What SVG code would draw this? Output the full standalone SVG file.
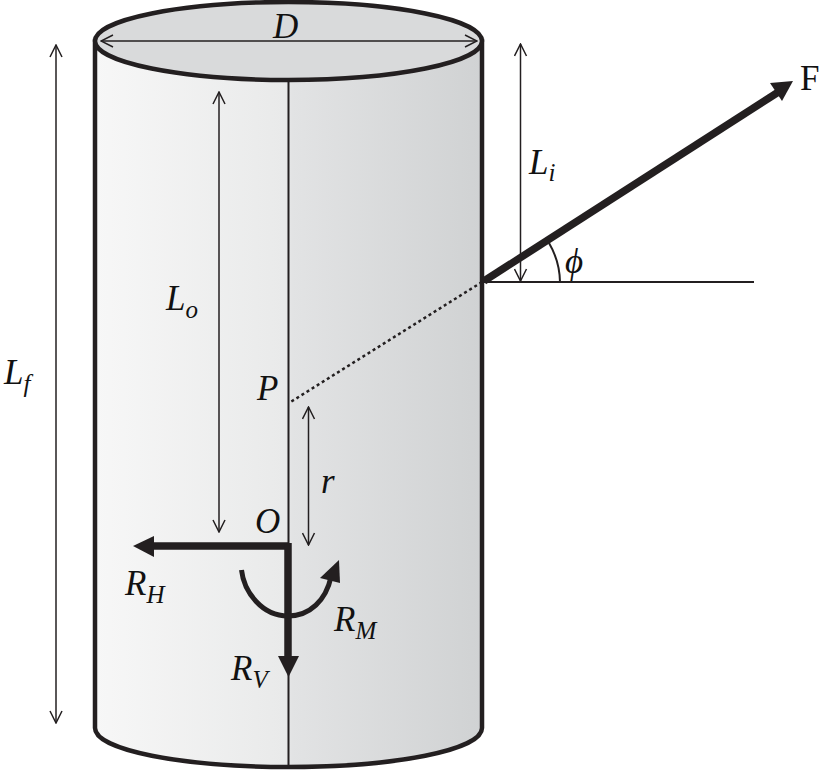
<svg xmlns="http://www.w3.org/2000/svg" width="832" height="776" viewBox="0 0 832 776">
<style>
.t{font-family:"Liberation Serif","Times New Roman",serif;font-style:italic;font-size:35px;fill:#111}
.s{font-size:25px}
.thin{fill:none;stroke:#231f20;stroke-width:1.5}
.med{fill:none;stroke:#231f20;stroke-width:2}
.thick{fill:none;stroke:#231f20;stroke-width:7.500}
.head{fill:#231f20}
</style>
<defs>
<linearGradient id="body" x1="0" x2="1" y1="0" y2="0">
<stop offset="0" stop-color="#f7f7f7"/>
<stop offset="0.49" stop-color="#e9eaea"/>
<stop offset="0.51" stop-color="#e2e3e4"/>
<stop offset="1" stop-color="#d0d2d3"/>
</linearGradient>
<marker id="open" viewBox="0 0 14 14" refX="13" refY="7" markerWidth="14" markerHeight="14" markerUnits="userSpaceOnUse" orient="auto-start-reverse">
<path d="M1 1L13 7L1 13" fill="none" stroke="#231f20" stroke-width="1.5"/>
</marker>
</defs>
<g id="cylinder">
<path d="M95 41V728C95 750 182 767 288.500 767C395 767 482 750 482 728V41Z" fill="url(#body)" stroke="#231f20" stroke-width="4.500"/>
<ellipse cx="288.500" cy="41" rx="193.500" ry="39" fill="#d9dadb" stroke="#231f20" stroke-width="4.500"/>
<path class="med" d="M288.500 80V767"/>
</g>
<g id="connectors">
<path class="thin" marker-start="url(#open)" marker-end="url(#open)" d="M101 41H477"/>
<path class="thin" marker-start="url(#open)" marker-end="url(#open)" d="M56 45V723"/>
<path class="thin" marker-start="url(#open)" marker-end="url(#open)" d="M219 92V532"/>
<path class="thin" marker-start="url(#open)" marker-end="url(#open)" d="M308.500 407V545"/>
<path class="thin" marker-start="url(#open)" marker-end="url(#open)" d="M520.500 44V281"/>
<path class="med" d="M482 282H754"/>
<path class="med" d="M549 243A80 80 0 0 1 560 282"/>
<path d="M482 282L289 403" fill="none" stroke="#231f20" stroke-width="2.500" stroke-dasharray="3 3"/>
<path class="thick" d="M484 281L780 91"/>
<path class="head" d="M793 81L770 83L782 101Z"/>
<path class="thick" d="M288 546H152"/>
<path class="head" d="M133 546L154 536V557Z"/>
<path class="thick" d="M288 543V660"/>
<path class="head" d="M288.500 677L278 656H299Z"/>
<path d="M241.500 570C244 592 262 616 288 616C310 616 326 600 331 577" fill="none" stroke="#231f20" stroke-width="5"/>
<path class="head" d="M339 560L320 578L340 583Z"/>
</g>
<g id="labels">
<text class="t" x="273" y="38">D</text>
<text class="t" x="4" y="384">L<tspan class="s" dy="8">f</tspan></text>
<text class="t" x="166" y="310">L<tspan class="s" dy="8">o</tspan></text>
<text class="t" x="529" y="174">L<tspan class="s" dy="7">i</tspan></text>
<text class="t" x="257" y="400">P</text>
<text class="t" x="321" y="493">r</text>
<text class="t" x="255" y="533">O</text>
<text class="t" x="125" y="595">R<tspan class="s" dy="8">H</tspan></text>
<text class="t" x="334" y="631">R<tspan class="s" dy="8">M</tspan></text>
<text class="t" x="231" y="680">R<tspan class="s" dy="8">V</tspan></text>
<text class="t" x="565" y="273">ϕ</text>
<text class="t" x="800" y="90" style="font-style:normal">F</text>
</g>
</svg>
